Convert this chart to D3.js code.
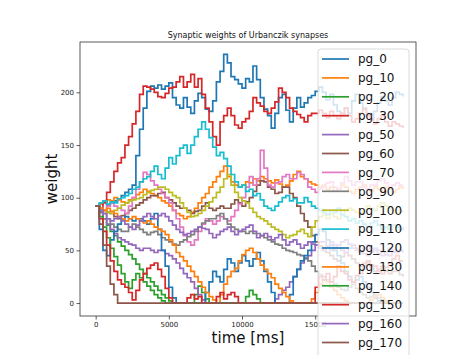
<!DOCTYPE html>
<html>
<head>
<meta charset="utf-8">
<script src="https://cdn.jsdelivr.net/npm/d3@7"></script>
<style>
  html, body { margin: 0; padding: 0; background: #fff; }
  svg { display: block; font-family: "DejaVu Sans", sans-serif; }
</style>
</head>
<body>
<svg id="chart" width="474" height="355"></svg>
<script>
// time grid (ms), one sample every 250 ms
const times = [
  0,250,500,750, 1000,1250,1500,1750, 2000,2250,2500,2750, 3000,3250,3500,3750,
  4000,4250,4500,4750, 5000,5250,5500,5750, 6000,6250,6500,6750, 7000,7250,7500,7750,
  8000,8250,8500,8750, 9000,9250,9500,9750, 10000,10250,10500,10750, 11000,11250,11500,11750,
  12000,12250,12500,12750, 13000,13250,13500,13750, 14000,14250,14500,14750, 15000,15250,15500,15750,
  16000,16250,16500,16750, 17000,17250,17500,17750, 18000,18250,18500,18750, 19000,19250,19500,19750,
  20000,20250,20500,20750, 21000];

const pg_0 = [
  92,94,96,93, 95,97,99,102, 105,108,112,140, 165,185,201,206,
  204,207,203,206, 209,195,188,185, 195,186,180,192, 199,195,184,182,
  192,210,220,236, 228,215,212,208, 204,213,210,225, 212,195,184,178,
  166,180,195,198, 183,172,185,195, 186,190,195,197, 201,205,200,193,
  198,188,182,178, 185,180,192,198, 190,185,180,175, 182,190,196,192,
  188,195,200,198, 196];
const pg_10 = [
  92,94,96,98, 97,100,98,96, 95,98,100,103, 105,108,106,104,
  102,100,97,95, 92,88,85,83, 80,82,86,90, 95,100,104,110,
  115,120,125,130, 120,115,112,110, 112,115,114,118, 116,120,118,116,
  114,117,113,110, 112,116,122,125, 120,118,115,113, 112,110,112,108,
  110,106,108,112, 110,106,104,108, 110,112,108,106, 110,108,106,110,
  108,105,108,110, 108];
const pg_20 = [
  92,86,80,74, 68,64,58,54, 50,46,42,37, 32,28,24,20,
  16,12,8,5, 2,0,0,0, 0,0,0,8, 16,10,4,0,
  0,0,0,0, 0,0,0,0, 0,6,12,8, 4,0,0,0,
  0,0,0,0, 0,0,0,0, 0,0,0,0, 0,0,0,0,
  0,0,0,0, 0,0,0,0, 0,0,0,0, 0,0,0,0,
  0,0,0,0, 0];
const pg_30 = [
  92,90,95,105, 115,125,133,138, 150,158,170,182, 198,206,205,203,
  200,196,195,199, 204,205,210,215, 205,210,217,205, 213,198,185,172,
  158,150,172,178, 185,178,169,166, 172,175,182,195, 190,187,182,180,
  185,191,204,200, 195,185,182,179, 176,172,178,180, 180,183,180,176,
  182,178,175,180, 185,178,172,175, 180,184,178,174, 170,175,178,172,
  168,172,170,168, 166];
const pg_50 = [
  92,86,80,75, 70,66,62,60, 58,56,55,52, 50,52,52,50,
  48,50,50,47, 45,42,38,33, 28,24,20,14, 8,3,0,0,
  0,0,0,0, 0,0,0,0, 0,0,0,0, 0,0,0,0,
  0,4,8,12, 15,20,25,32, 38,42,45,50, 55,58,58,54,
  50,52,55,58, 60,56,52,50, 48,52,55,52, 50,47,45,48,
  52,50,48,50, 50];
const pg_60 = [
  92,90,88,86, 85,82,80,83, 85,88,90,93, 95,98,100,102,
  102,104,105,100, 98,95,92,90, 90,88,85,87, 88,92,95,90,
  88,90,92,90, 90,94,98,95, 92,96,100,106, 112,116,115,110,
  108,104,105,110, 110,104,100,92, 85,78,72,64, 58,54,50,48,
  45,42,40,44, 48,45,42,38, 35,38,38,34, 30,32,35,30,
  28,30,30,27, 25];
const pg_70 = [
  92,90,88,92, 95,92,90,88, 85,92,100,108, 115,124,122,116,
  112,108,104,100, 95,88,80,72, 64,58,55,60, 68,75,80,78,
  75,78,82,80, 78,82,88,94, 100,110,120,112, 118,145,128,112,
  110,114,115,120, 122,118,118,124, 122,118,110,108, 105,108,110,114,
  115,110,108,114, 120,116,112,115, 115,110,108,112, 112,116,118,114,
  110,112,114,112, 112];
const pg_90 = [
  92,88,85,80, 75,72,70,68, 68,72,75,72, 70,67,65,67,
  68,65,62,60, 58,56,55,58, 60,63,65,68, 72,76,78,80,
  80,83,85,80, 75,72,70,68, 68,66,68,66, 66,64,62,60,
  58,56,55,52, 50,49,48,46, 45,43,40,35, 30,27,25,22,
  20,18,15,13, 12,15,18,14, 10,8,5,6, 8,5,3,1,
  0,0,0,0, 0];
const pg_100 = [
  92,90,88,86, 85,88,90,93, 95,97,98,99, 100,103,105,107,
  108,110,110,108, 105,102,100,95, 90,86,82,83, 85,88,92,96,
  100,105,110,118, 122,112,105,100, 97,95,90,86, 82,80,78,75,
  72,70,68,65, 62,64,65,68, 70,66,63,72, 78,82,84,80,
  85,82,80,84, 88,90,88,86, 85,88,92,90, 88,92,95,92,
  90,88,85,87, 88];
const pg_110 = [
  92,95,97,94, 96,95,99,100, 102,104,108,110, 115,118,120,125,
  130,122,118,128, 138,132,140,147, 150,142,150,158, 165,172,165,157,
  148,140,143,137, 130,122,115,110, 112,106,108,102, 104,98,92,90,
  88,92,96,100, 102,97,99,95, 95,100,96,92, 90,88,86,84,
  88,86,90,84, 82,78,80,76, 78,75,72,76, 78,74,70,72,
  70,74,72,70, 72];
const pg_120 = [
  92,70,50,45, 60,68,75,80, 82,80,78,80, 80,78,75,80,
  85,70,50,35, 15,5,0,0, 0,0,0,0, 0,0,10,20,
  30,25,20,32, 42,38,30,38, 45,40,35,42, 48,40,30,20,
  10,0,0,0, 0,8,25,32, 40,45,50,58, 65,70,68,60,
  55,50,45,38, 30,25,20,22, 25,20,15,10, 5,2,0,0,
  0,0,0,0, 0];
const pg_130 = [
  92,90,88,90, 87,85,82,80, 78,80,82,80, 78,76,78,75,
  72,70,68,65, 60,55,48,44, 40,35,30,25, 20,15,10,6,
  3,0,8,18, 25,30,33,40, 46,50,52,48, 42,36,32,28,
  24,18,14,10, 6,2,0,0, 0,0,0,4, 10,18,22,20,
  15,12,8,5, 2,0,0,0, 0,0,0,3, 6,8,5,2,
  0,0,0,0, 0];
const pg_140 = [
  92,82,72,62, 52,44,36,28, 20,14,22,28, 24,20,16,12,
  8,5,2,0, 0,0,0,0, 0,0,0,0, 0,0,0,0,
  0,0,0,0, 0,0,0,0, 0,0,0,0, 0,0,0,0,
  0,0,0,0, 0,0,0,0, 0,0,0,0, 0,0,0,0,
  0,0,0,0, 0,0,0,0, 0,0,0,0, 0,0,0,0,
  0,0,0,0, 0];
const pg_150 = [
  92,80,68,55, 40,30,22,18, 15,10,3,12, 22,28,33,36,
  38,32,25,14, 5,0,0,0, 0,5,8,4, 6,0,0,0,
  0,6,10,4, 8,10,6,0, 0,0,0,0, 0,0,0,0,
  0,0,0,0, 0,0,0,0, 0,0,0,0, 15,25,22,28,
  20,25,35,30, 28,22,20,26, 28,35,40,36, 35,30,28,34,
  38,42,45,40, 40];
const pg_160 = [
  92,88,85,80, 78,80,82,78, 75,72,70,74, 78,82,85,82,
  80,83,85,82, 78,74,70,67, 65,66,68,70, 72,71,70,66,
  62,65,68,70, 72,68,65,68, 70,72,74,68, 62,64,66,63,
  60,62,65,60, 55,58,60,56, 52,55,58,56, 55,52,50,54,
  58,55,52,50, 48,52,55,52, 50,47,45,48, 52,50,48,46,
  45,48,50,49, 48];
const pg_170 = [
  92,75,55,35, 18,8,0,0, 0,0,0,0, 0,0,0,0,
  0,0,0,0, 0,0,0,0, 0,0,0,0, 0,0,0,0,
  0,0,0,0, 0,0,0,0, 0,0,0,0, 0,0,0,0,
  0,0,0,0, 0,0,0,0, 0,0,0,0, 0,0,0,0,
  0,0,0,0, 0,0,0,0, 0,0,0,0, 0,0,0,0,
  0,0,0,0, 0];

const seriesNames = ["pg_0","pg_10","pg_20","pg_30","pg_50","pg_60","pg_70","pg_90","pg_100","pg_110","pg_120","pg_130","pg_140","pg_150","pg_160","pg_170"];
const seriesValues = [pg_0,pg_10,pg_20,pg_30,pg_50,pg_60,pg_70,pg_90,pg_100,pg_110,pg_120,pg_130,pg_140,pg_150,pg_160,pg_170];
const palette = ["#1f77b4","#ff7f0e","#2ca02c","#d62728","#9467bd","#8c564b","#e377c2","#7f7f7f","#bcbd22","#17becf"];

const xTicks = [0,5000,10000,15000];
const yTicks = [0,50,100,150,200];

const title = "Synaptic weights of Urbanczik synapses";
const xLabel = "time [ms]";
const yLabel = "weight";

const svg = d3.select("#chart");
const L = 80, T = 42, R = 416, B = 316;

const x = d3.scaleLinear().domain([-1070, 21890]).range([L, R]);
const y = d3.scaleLinear().domain([-12.3, 247.8]).range([B, T]);

// lines
const line = d3.line().x(d => x(d[0])).y(d => y(d[1])).curve(d3.curveStepAfter);
const plot = svg.append("g");
seriesValues.forEach((vals, i) => {
  plot.append("path")
    .datum(times.map((t, j) => [t, vals[j]]))
    .attr("fill", "none")
    .attr("stroke", palette[i % 10])
    .attr("stroke-width", 1.7)
    .attr("stroke-linejoin", "miter")
    .attr("d", line);
});

// frame
svg.append("rect").attr("x", L).attr("y", T).attr("width", R - L).attr("height", B - T)
  .attr("fill", "none").attr("stroke", "#333").attr("stroke-width", 0.8);

// axes
const xAxis = svg.append("g").attr("transform", `translate(0,${B})`)
  .call(d3.axisBottom(x).tickValues(xTicks).tickFormat(d3.format("d")).tickSize(3.5).tickPadding(2.5));
const yAxis = svg.append("g").attr("transform", `translate(${L},0)`)
  .call(d3.axisLeft(y).tickValues(yTicks).tickFormat(d3.format("d")).tickSize(3.5).tickPadding(2.5));
[xAxis, yAxis].forEach(a => {
  a.select(".domain").remove();
  a.selectAll("line").attr("stroke", "#333").attr("stroke-width", 0.8);
  a.selectAll("text").attr("font-family", "DejaVu Sans").attr("font-size", 7).attr("fill", "#222");
});

// title and labels
svg.append("text").attr("x", (L + R) / 2).attr("y", 37.5).attr("text-anchor", "middle")
  .attr("font-size", 8).attr("fill", "#111").text(title);
svg.append("text").attr("x", (L + R) / 2).attr("y", 343).attr("text-anchor", "middle")
  .attr("font-size", 15).attr("fill", "#111").text(xLabel);
svg.append("text").attr("transform", `translate(57,${(T + B) / 2}) rotate(-90)`).attr("text-anchor", "middle")
  .attr("font-size", 15).attr("fill", "#111").text(yLabel);

// legend (semi-transparent, drawn over the lines)
const lg = svg.append("g");
const lx = 318, ly = 49, rowH = 18.9;
lg.append("rect").attr("x", lx).attr("y", ly).attr("width", 91).attr("height", 330)
  .attr("rx", 3).attr("fill", "rgba(255,255,255,0.8)").attr("stroke", "#d0d0d0").attr("stroke-width", 0.8);
seriesNames.forEach((name, i) => {
  const cy = ly + 10 + i * rowH;
  lg.append("line").attr("x1", lx + 4).attr("x2", lx + 31).attr("y1", cy).attr("y2", cy)
    .attr("stroke", palette[i % 10]).attr("stroke-width", 1.7);
  lg.append("text").attr("x", lx + 40).attr("y", cy + 4.3).attr("font-size", 12).attr("fill", "#111").text(name);
});
</script>
</body>
</html>
